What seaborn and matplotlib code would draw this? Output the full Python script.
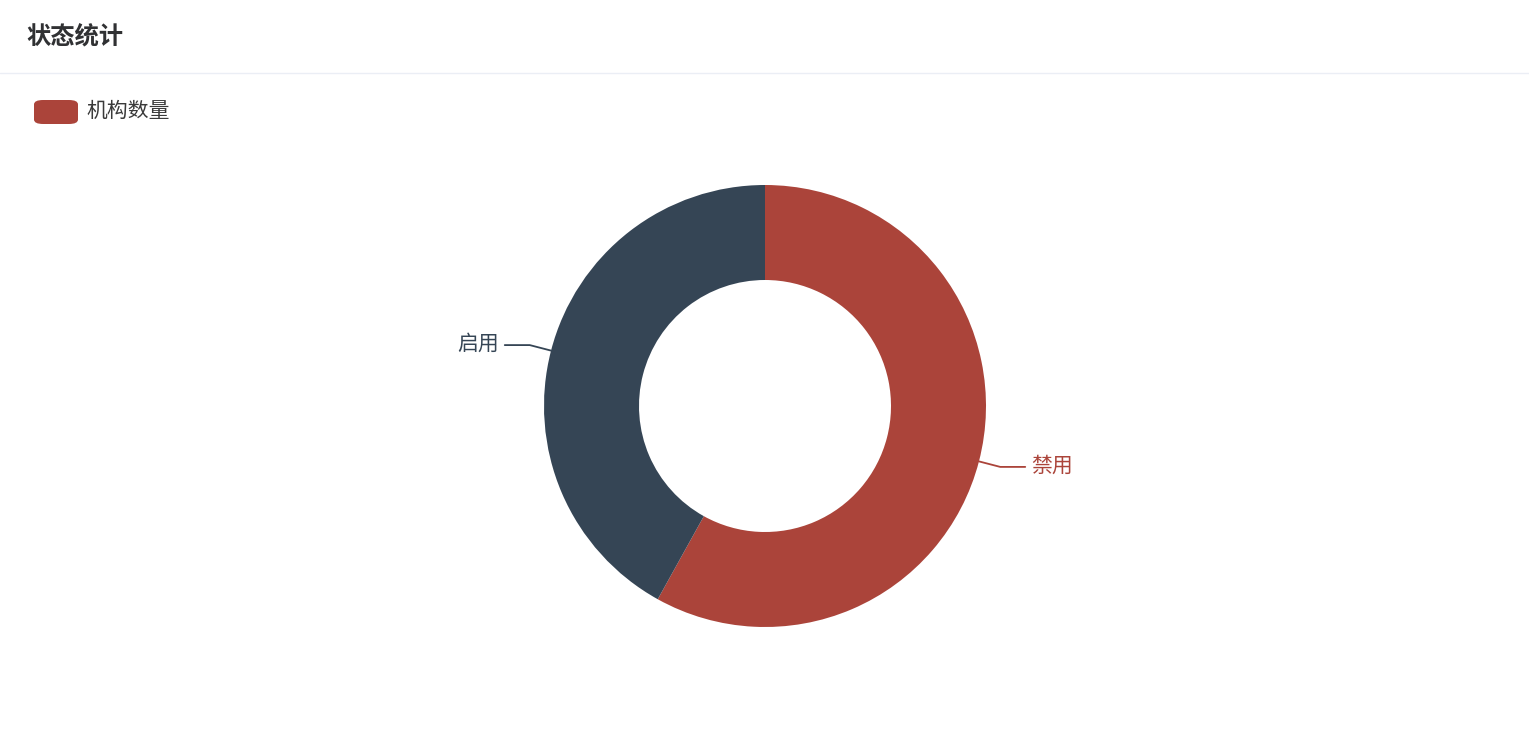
"""
状态统计 - 机构数量 donut chart
"""

import numpy as np
import matplotlib
matplotlib.use("Agg")
import matplotlib.pyplot as plt
import seaborn as sns
from matplotlib.patches import FancyBboxPatch

# ──────────────────────────────────────────────
# Data
# ──────────────────────────────────────────────

title = "状态统计"
series_name = "机构数量"
status_labels = ["禁用", "启用"]
status_counts = [18, 13]
status_colors = ["#ab443a", "#354555"]

# ──────────────────────────────────────────────
# Figure setup
# ──────────────────────────────────────────────

sns.set_theme(style="white")
plt.rcParams["font.family"] = ["Noto Sans CJK SC", "DejaVu Sans"]

W, H = 1529, 736
fig = plt.figure(figsize=(W / 100, H / 100), dpi=100)
ax = fig.add_axes([0, 0, 1, 1])
ax.set_xlim(0, W)
ax.set_ylim(0, H)
ax.axis("off")

# header
fig.text(26 / W, 1 - 36 / H, title, fontsize=17.5, fontweight="bold",
         color="#303133", va="center", ha="left")
ax.axhline(H - 73, color="#ebeef5", lw=1)

# legend
fig.patches.append(FancyBboxPatch((34 / W, 1 - 124 / H), 44 / W, 24 / H,
                                  boxstyle="round,pad=0,rounding_size=0.006",
                                  transform=fig.transFigure,
                                  facecolor=status_colors[0], edgecolor="none"))
fig.text(86 / W, 1 - 111 / H, series_name, fontsize=15, color="#3a3a3a",
         va="center", ha="left")

# ──────────────────────────────────────────────
# Donut
# ──────────────────────────────────────────────

cx, cy, r = 765, H - 406, 221
wedges, _ = ax.pie(status_counts, colors=status_colors, startangle=90,
                   counterclock=False, center=(cx, cy), radius=r,
                   wedgeprops=dict(width=r - 126, edgecolor="none"))
ax.set_xlim(0, W)
ax.set_ylim(0, H)
ax.set_aspect("equal")

for w, label, color in zip(wedges, status_labels, status_colors):
    mid = np.deg2rad((w.theta1 + w.theta2) / 2)
    dx, dy = np.cos(mid), np.sin(mid)
    p0 = (cx + r * dx, cy + r * dy)
    p1 = (cx + (r + 22) * dx, cy + (r + 22) * dy)
    side = 1 if dx >= 0 else -1
    p2 = (p1[0] + 25 * side, p1[1])
    ax.plot([p0[0], p1[0], p2[0]], [p0[1], p1[1], p2[1]], color=color, lw=1.3)
    ax.text(p2[0] + 6 * side, p2[1] + 1, label, fontsize=15, color=color,
            va="center", ha="left" if side > 0 else "right")

fig.savefig("out.png", dpi=100, facecolor="white")
